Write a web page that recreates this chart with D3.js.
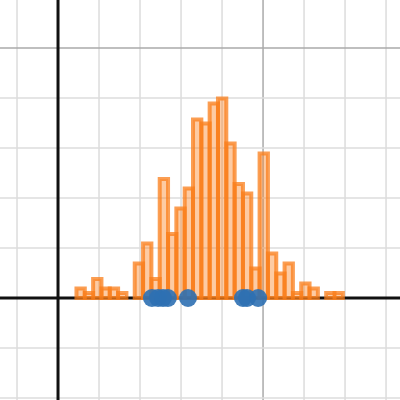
<!DOCTYPE html>
<html><head><meta charset="utf-8">
<script src="https://cdn.jsdelivr.net/npm/d3@7"></script>
<style>body{margin:0;background:#fff}</style></head>
<body><div id="viz"></div>
<script>
// histogram bins (left edge, width) and heights
var binStart = 0.45, binWidth = 0.203;
var binHeights = [0.19,0.1,0.38,0.19,0.19,0.1,0,0.69,1.09,0.38,2.38,1.28,1.79,2.19,3.57,3.49,3.89,3.99,3.09,2.28,2.09,0.59,2.89,0.89,0.49,0.69,0.1,0.29,0.19,0,0.1,0.1];
// sample points on the x axis
var pointsX = [2.29,2.44,2.56,2.68,3.17,4.51,4.61,4.88];

var width = 400, height = 400;
var x = d3.scaleLinear().domain([-1.415, 8.34]).range([0, width]);
var y = d3.scaleLinear().domain([5.96, -2.04]).range([0, height]);

var svg = d3.select("#viz").append("svg").attr("width", width).attr("height", height);

// grid
d3.range(-1, 9).forEach(function(v) {
  svg.append("line").attr("x1", x(v)).attr("x2", x(v)).attr("y1", 0).attr("y2", height)
    .attr("stroke", v % 5 == 0 ? "#aaa" : "#dcdcdc").attr("stroke-width", 1.5);
});
d3.range(-2, 7).forEach(function(v) {
  svg.append("line").attr("y1", y(v)).attr("y2", y(v)).attr("x1", 0).attr("x2", width)
    .attr("stroke", v % 5 == 0 ? "#aaa" : "#dcdcdc").attr("stroke-width", 1.5);
});

// axes
svg.append("line").attr("x1", x(0)).attr("x2", x(0)).attr("y1", 0).attr("y2", height).attr("stroke", "#111").attr("stroke-width", 3);
svg.append("line").attr("y1", y(0)).attr("y2", y(0)).attr("x1", 0).attr("x2", width).attr("stroke", "#111").attr("stroke-width", 3);

// bars
var bins = binHeights.map(function(h, i) { return {x0: binStart + i * binWidth, h: h}; });
svg.append("g").selectAll("rect").data(bins).enter().append("rect")
  .attr("x", function(d) { return x(d.x0); })
  .attr("y", function(d) { return y(d.h); })
  .attr("width", x(binWidth) - x(0))
  .attr("height", function(d) { return y(0) - y(d.h); })
  .attr("fill", "#fa7e19").attr("fill-opacity", 0.4)
  .attr("stroke", "#fa7e19").attr("stroke-opacity", 0.75).attr("stroke-width", 4)
  .attr("stroke-dasharray", function(d) { return d.h == 0 ? "3,3" : null; });

// points
svg.append("g").selectAll("circle").data(pointsX).enter().append("circle")
  .attr("cx", function(d) { return x(d); }).attr("cy", y(0)).attr("r", 9)
  .attr("fill", "#2d70b3").attr("fill-opacity", 0.9);
</script></body></html>
